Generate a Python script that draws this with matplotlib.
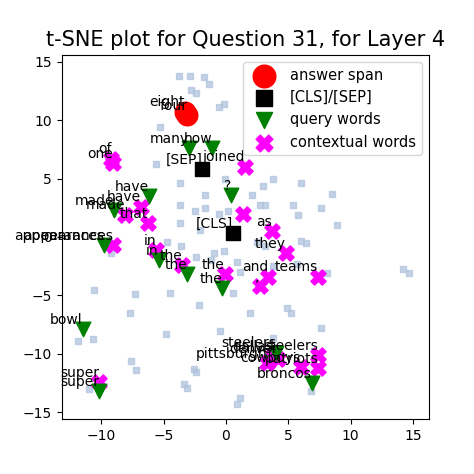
import matplotlib
matplotlib.use("Agg")
import matplotlib.pyplot as plt

# answer span
ans_words = ["eight", "four"]
ans_x = [-3.3, -3.1]
ans_y = [10.7, 10.4]
# [CLS]/[SEP]
sp_words = ["[SEP]", "[CLS]"]
sp_x = [-1.9, 0.6]
sp_y = [5.8, 0.3]
# query words
q_words = ["many", "how", "have", "made", "?", "appearances", "in", "the", "the",
           "bowl", "super", "steelers", "broncos"]
q_x = [-3.0, -1.1, -6.2, -9.0, 0.4, -9.8, -5.4, -3.1, -0.3, -11.5, -10.2, 4.0, 6.9]
q_y = [7.6, 7.6, 3.5, 2.3, 3.6, -0.7, -2.0, -3.2, -4.4, -7.9, -13.2, -9.9, -12.5]
# contextual words
c_words = ["one", "of", "joined", "have", "made", "that", "", "as", "appearances",
           "they", "in", "the", "the", "and", ",", "teams", "pittsburgh", "dallas",
           "cowboys", "steelers", "super", "patriots", "denver"]
c_x = [-9.1, -9.2, 1.5, -6.8, -8.1, -6.3, 1.4, 3.7, -9.1, 4.8, -5.6, -3.5, -0.1, 3.4,
       2.7, 7.4, 3.3, 3.8, 6.0, 7.4, -10.2, 7.4, 4.2]
c_y = [6.3, 6.7, 6.0, 2.6, 1.9, 1.2, 2.0, 0.5, -0.7, -1.4, -1.1, -2.4, -3.2, -3.4,
       -4.2, -3.4, -10.8, -10.2, -11.1, -10.1, -12.4, -11.2, -10.4]
# other (faded) tokens
o_x = [-3.8, -2.9, -1.8, -1.4, -2.8, -2.4, -0.6, -0.2, -5.3, -5.6, -0.1, -3.7, -1.7,
       2.1, 3.0, 3.8, 6.0, 8.5, 2.7, 3.1, 5.4, 5.8, 7.6, 8.9, -3.7, -2.5, -1.7, 0.2,
       -3.7, -2.1, -0.6, 2.5, 6.0, 6.4, -4.7, -9.2, -3.6, -1.0, -0.2, -2.4, -1.2, 0.9,
       3.8, 5.7, 8.1, 14.2, 14.7, 3.1, -10.6, -7.3, -4.5, -2.2, -7.7, 1.9, 4.9, 5.2,
       -0.5, -4.8, -10.7, -11.9, 7.6, 3.8, -7.6, -7.2, -2.6, -2.4, -3.4, -3.1, 1.1,
       0.9, -11.0, 6.8, 0.6, 1.1]
o_y = [13.8, 13.8, 13.7, 13.1, 12.6, 12.3, 11.1, 11.4, 9.4, 6.2, 5.0, 4.6, 3.6, 3.6,
       4.4, 5.0, 4.6, 3.7, 2.7, 2.7, 2.7, 1.9, 2.5, 1.0, 2.7, 2.2, 2.5, 2.2, 1.2, 0.6,
       2.0, -0.4, -0.3, -0.5, -0.4, -1.4, -0.8, -1.4, -1.2, -1.7, -2.0, -2.1, -2.5,
       -2.3, -3.1, -2.7, -3.1, -0.8, -4.5, -4.9, -4.8, -5.8, -6.5, -6.5, -6.1, -6.5,
       -8.0, -8.3, -8.7, -8.9, -7.8, -8.6, -10.6, -11.4, -11.3, -11.5, -12.6, -12.9,
       -13.8, -14.3, -13.0, -13.2, -4.8, -3.0]

fig, ax = plt.subplots(figsize=(4.74, 4.74), dpi=100)
fig.subplots_adjust(left=0.13, right=0.905, bottom=0.115, top=0.885)

ax.scatter(o_x, o_y, marker="s", s=20, color="#b0c4de", alpha=0.75, zorder=1)
ax.scatter(ans_x, ans_y, marker="o", s=220, color="red", label="answer span", zorder=3)
ax.scatter(sp_x, sp_y, marker="s", s=110, color="black", label="[CLS]/[SEP]", zorder=3)
ax.scatter(q_x, q_y, marker="v", s=110, color="green", label="query words", zorder=3)
ax.scatter(c_x, c_y, marker="X", s=120, color="magenta", label="contextual words", zorder=2)

for words, xs, ys in [(ans_words, ans_x, ans_y), (sp_words, sp_x, sp_y),
                      (q_words, q_x, q_y), (c_words, c_x, c_y)]:
    for w, x, y in zip(words, xs, ys):
        ax.text(x, y + 0.2, w, ha="right", va="bottom", fontsize=10, zorder=4)

ax.set_xlim(-13.2, 16.3)
ax.set_ylim(-15.6, 15.6)
ax.set_xticks([-10, -5, 0, 5, 10, 15])
ax.set_yticks([-15, -10, -5, 0, 5, 10, 15])
ax.tick_params(labelsize=10)
ax.set_title("t-SNE plot for Question 31, for Layer 4", fontsize=15)
ax.legend(loc="upper right", fontsize=10.5, markerscale=1.1)
fig.savefig("out.png", dpi=100)
